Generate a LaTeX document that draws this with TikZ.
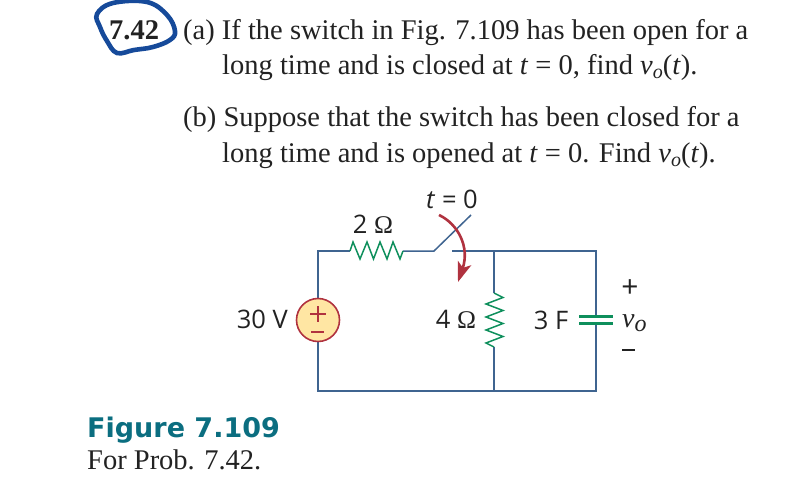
\documentclass[tikz,border=0pt]{standalone}
\usepackage{fontspec}
\setmainfont{Liberation Serif}
\newfontfamily\lblfont{Open Sans}
\newfontfamily\headfont{DejaVu Sans Bold}
\usetikzlibrary{arrows.meta}
\definecolor{wire}{HTML}{3F6490}
\definecolor{grn}{HTML}{0E8F5C}
\definecolor{crim}{HTML}{B0323F}
\definecolor{srcfill}{HTML}{FFE6A3}
\definecolor{teal}{HTML}{0B6E80}
\definecolor{inkblue}{HTML}{164A9A}
\definecolor{ink}{HTML}{222222}
\tikzset{
 bodytext/.style={anchor=base west,inner sep=0pt,text=ink,font=\fontsize{28.5}{32}\selectfont},
 lbl/.style={inner sep=0pt,text=ink,font=\lblfont\fontsize{25.5}{30}\selectfont},
 wireline/.style={draw=wire,line width=1.5pt,line join=miter},
 res/.style={draw=grn,line width=1.5pt,line join=miter},
}
\begin{document}
\begin{tikzpicture}[x=1pt,y=-1pt]
\useasboundingbox (0,0) rectangle (811,484);
% hand-drawn loop
\draw[inkblue,line width=4.6pt,line cap=round] plot[smooth cycle,tension=0.65] coordinates {(97,14)(113,3)(147,2)(167,15)(175,31)(170,40)(153,47)(134,50)(117,53)(107,41)(100,27)};
\node[bodytext,font=\fontsize{28.5}{32}\selectfont\bfseries] (num) at (109,40) {7.42};
\node[bodytext] (a1) at (183,40) {(a) If the switch in Fig. 7.109 has been open for a};
\node[bodytext] (a2) at (222,75) {long time and is closed at \textit{t} = 0, find \textit{v}\raisebox{-4pt}{\fontsize{20}{22}\selectfont\textit{o}}(\textit{t}).};
\node[bodytext] (b1) at (183,127) {(b) Suppose that the switch has been closed for a};
\node[bodytext] (b2) at (222,162) {long time and is opened at \textit{t} = 0. Find \textit{v}\raisebox{-4pt}{\fontsize{20}{22}\selectfont\textit{o}}(\textit{t}).};
% circuit points
\coordinate (tl) at (318,251);
\coordinate (bl) at (318,391);
\coordinate (r2a) at (350,251);
\coordinate (r2b) at (403,251);
\coordinate (swa) at (434,251);
\coordinate (swb) at (471,215);
\coordinate (swc) at (452,251);
\coordinate (j1) at (494,251);
\coordinate (j2) at (494,391);
\coordinate (r4a) at (494,293);
\coordinate (r4b) at (494,347);
\coordinate (tr) at (596,251);
\coordinate (br) at (596,391);
\coordinate (c1) at (596,317);
\coordinate (c2) at (596,323);
% wires
\draw[wireline] (318,299) -- (tl) -- (r2a);
\draw[wireline] (r2b) -- (swa) -- (swb);
\draw[wireline] (swc) -- (tr) -- (c1);
\draw[wireline] (318,341) -- (bl) -- (br) -- (c2);
\draw[wireline] (j1) -- (r4a);
\draw[wireline] (r4b) -- (j2);
% resistors
\draw[res] (r2a) -- (353,242) -- (360,259) -- (367,242) -- (373.5,259) -- (380,242) -- (387,259) -- (393,242) -- (400,259) -- (r2b);
\draw[res] (r4a) -- (503,297.5) -- (486,304) -- (503,310.5) -- (486,317) -- (503,323.5) -- (486,330) -- (503,336.5) -- (486,343) -- (r4b);
% capacitor
\draw[draw=grn,line width=2.2pt] (579,316.5) -- (613,316.5) (579,323.5) -- (613,323.5);
% source
\node[circle,draw=crim,fill=srcfill,line width=1.6pt,minimum size=43pt,inner sep=0pt] (src) at (318,320) {};
\draw[crim,line width=1.6pt] (310,314) -- (326,314) (318,306) -- (318,322) (311,332) -- (324,332);
% switch arrow
\coordinate (arrs) at (439,215);
\coordinate (arre) at (458,282);
\draw[crim,line width=2.6pt,-{Stealth[length=20pt,width=14pt,inset=5pt]}] (arrs) .. controls (458,224) and (470,247) .. (arre);
% labels
\node[lbl,anchor=base] (lt) at (452,208) {\textit{t} = 0};
\node[lbl,anchor=base] (l2) at (373,233) {2 \fontspec{Liberation Serif}Ω};
\node[lbl,anchor=base east] (l30) at (288,328) {30 V};
\node[lbl,anchor=base] (l4) at (456,328) {4 \fontspec{Liberation Serif}Ω};
\node[lbl,anchor=base] (l3) at (551,329) {3 F};
\node[lbl,anchor=base,font=\lblfont\fontsize{30}{34}\selectfont] (lp) at (630,297) {+};
\node[bodytext,anchor=base west,font=\fontsize{28}{30}\selectfont] (lv) at (622,327) {\textit{v}\raisebox{-4pt}{\fontsize{24}{26}\selectfont\textit{o}}};
\draw[ink,line width=1.6pt] (622,350) -- (635,350);
% caption
\node[anchor=base west,inner sep=0pt,text=teal,font=\headfont\fontsize{27}{32}\selectfont] (fig) at (87,437) {Figure 7.109};
\node[bodytext] (cap) at (87,469) {For Prob. 7.42.};
\end{tikzpicture}
\end{document}
